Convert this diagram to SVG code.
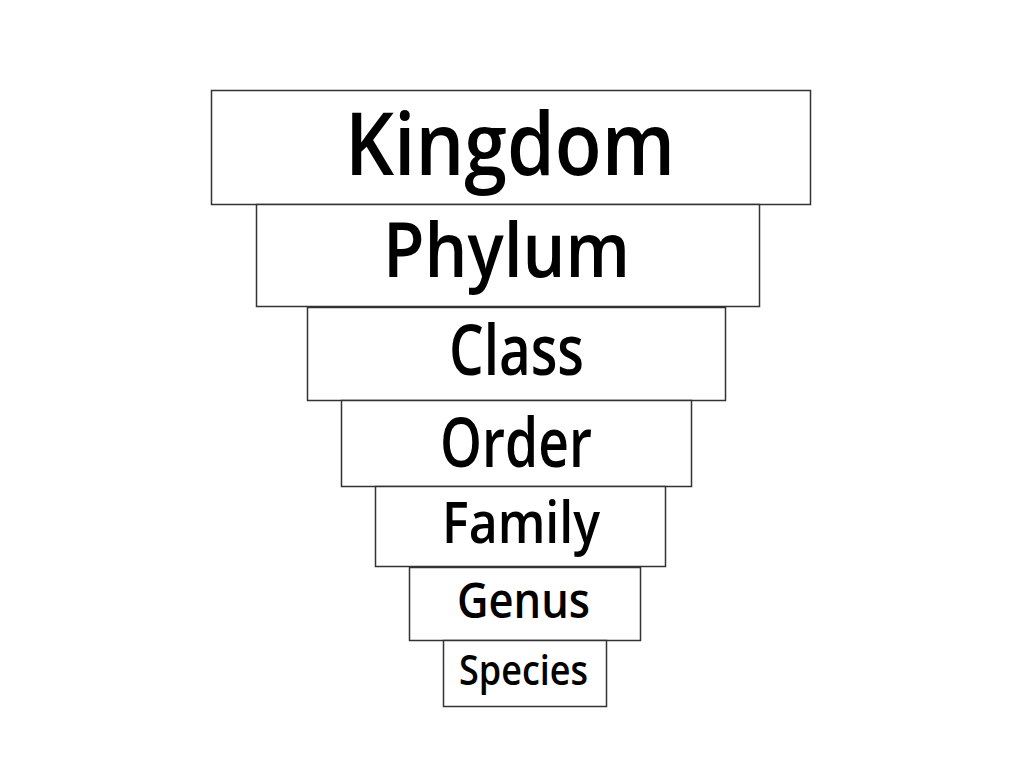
<svg xmlns="http://www.w3.org/2000/svg" width="1024" height="768" viewBox="0 0 1024 768">
<style>
.box{fill:#fff;stroke:#333;stroke-width:1.5}
.lbl{font-family:"Open Sans","Liberation Sans",sans-serif;fill:#000;font-weight:600}
</style>
<rect width="1024" height="768" fill="#fff"/>
<g id="kingdom"><rect class="box" x="211.5" y="90.5" width="599" height="114"/><text class="lbl" x="345" y="175" font-size="87" textLength="330" lengthAdjust="spacingAndGlyphs">Kingdom</text></g>
<g id="phylum"><rect class="box" x="256.5" y="204.5" width="503" height="102"/><text class="lbl" x="383" y="277" font-size="76" textLength="247" lengthAdjust="spacingAndGlyphs">Phylum</text></g>
<g id="class"><rect class="box" x="307.5" y="307.5" width="418" height="93"/><text class="lbl" x="449" y="375" font-size="70" textLength="135" lengthAdjust="spacingAndGlyphs">Class</text></g>
<g id="order"><rect class="box" x="341.5" y="400.5" width="350" height="86"/><text class="lbl" x="440" y="467" font-size="68" textLength="152" lengthAdjust="spacingAndGlyphs">Order</text></g>
<g id="family"><rect class="box" x="375.5" y="486.5" width="290" height="80"/><text class="lbl" x="442" y="543" font-size="58" textLength="158" lengthAdjust="spacingAndGlyphs">Family</text></g>
<g id="genus"><rect class="box" x="409.5" y="567.5" width="231" height="73"/><text class="lbl" x="457" y="618" font-size="49" textLength="133" lengthAdjust="spacingAndGlyphs">Genus</text></g>
<g id="species"><rect class="box" x="443.5" y="640.5" width="163" height="66"/><text class="lbl" x="459" y="685" font-size="42" textLength="129" lengthAdjust="spacingAndGlyphs">Species</text></g>
<g id="connectors"></g>
</svg>
